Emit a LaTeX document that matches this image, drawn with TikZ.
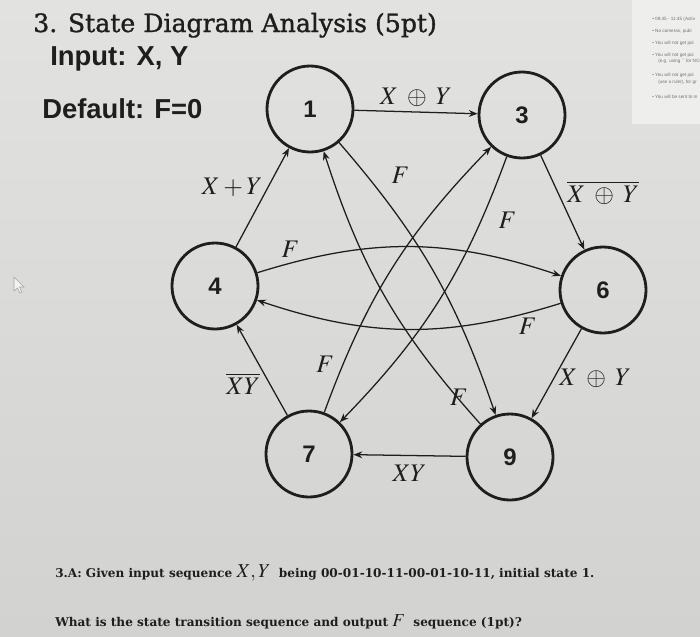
\documentclass[tikz,border=0pt]{standalone}
\usepackage{mathptmx}
\usepackage{fontspec}
\newfontfamily\serifhead{DejaVu Serif}
\newfontfamily\titleface[FakeBold=1.2]{DejaVu Serif}
\newfontfamily\sanshead{Liberation Sans}
\usetikzlibrary{arrows.meta, positioning}
\definecolor{bgtop}{RGB}{226,226,224}
\definecolor{bgbot}{RGB}{210,210,208}
\definecolor{paper}{RGB}{238,238,236}
\definecolor{ink}{RGB}{30,30,30}

\begin{document}
\begin{tikzpicture}[>={Stealth[length=2.2mm, width=1.7mm]},
    state/.style={draw=ink, circle, line width=2pt, minimum size=2.15cm,
                  font=\fontsize{17}{20}\selectfont\sanshead\bfseries, text=ink},
    trans/.style={->, draw=ink, line width=0.9pt},
    lbl/.style={font=\fontsize{18}{20}\selectfont, text=ink},
    head/.style={anchor=base west, inner sep=0pt, text=ink}]
  \useasboundingbox (0,0) rectangle (17.5,-15.9);
  \shade[top color=bgtop, bottom color=bgbot] (0,0) rectangle (17.5,-15.9);

  % sheet of paper at the top right
  \begin{scope}
    \clip (15.8,0) rectangle (17.5,-3.1);
    \fill[paper] (15.8,0) rectangle (17.5,-3.1);
    \begin{scope}[every node/.style={anchor=base west, inner sep=0pt,
                  font=\fontsize{3.3}{4}\selectfont\sanshead, text=black!55}]
      \node (p1) at (16.3,-0.5) {\textbullet\ 08:45 - 11:45 (Activ};
      \node (p2) at (16.3,-0.8) {\textbullet\ No cameras, publ};
      \node (p3) at (16.3,-1.12) {\textbullet\ You will not get poi};
      \node (p4) at (16.3,-1.42) {\textbullet\ You will not get poi};
      \node (p4b) at (16.45,-1.57) {(e.g. using `` for NO};
      \node (p5) at (16.3,-1.92) {\textbullet\ You will not get poi};
      \node (p5b) at (16.45,-2.08) {(use a ruler), for gr};
      \node (p6) at (16.3,-2.45) {\textbullet\ You will be sent to m};
    \end{scope}
  \end{scope}

  % mouse pointer
  \draw[gray!70, fill=white!90!gray, line width=0.4pt]
    (0.35,-6.925) -- (0.35,-7.275) -- (0.4375,-7.2) -- (0.5,-7.325)
    -- (0.55,-7.3) -- (0.4875,-7.175) -- (0.6,-7.175) -- cycle;

  % heading
  \node[head, font=\fontsize{17.9}{21}\selectfont\titleface] (title)
    at (0.825,-0.8) {3. State Diagram Analysis (5pt)};
  \node[head, font=\fontsize{19.5}{22}\selectfont\sanshead\bfseries] (input)
    at (1.25,-1.625) {Input: X, Y};
  \node[head, font=\fontsize{19.5}{22}\selectfont\sanshead\bfseries] (dflt)
    at (1.05,-2.95) {Default: F=0};

  % states
  \node[state] (n1) at (7.75,-2.725) {1};
  \node[state] (n3) at (13.05,-2.875) {3};
  \node[state] (n4) at (5.375,-7.15) {4};
  \node[state] (n6) at (15.075,-7.25) {6};
  \node[state] (n7) at (7.725,-11.35) {7};
  \node[state] (n9) at (12.75,-11.425) {9};

  % transitions
  \draw[trans] (n1) -- node[lbl, above] {$X\;\oplus\;Y$} (n3);
  \draw[trans] (n4) -- node[lbl, left, pos=0.6] {$X+Y$} (n1);
  \draw[trans] (n3) -- node[lbl, right=1mm, pos=0.4] {$\overline{X\;\oplus\;Y}$} (n6);
  \draw[trans] (n6) -- node[lbl, right, pos=0.55] {$X\;\oplus\;Y$} (n9);
  \draw[trans] (n9) -- node[lbl, below=1mm] {$XY$} (n7);
  \draw[trans] (n7) -- node[lbl, left=1mm, pos=0.35] {$\overline{XY}$} (n4);
  \draw[trans] (n4) to[bend left=18] node[lbl, above, pos=0.1] {$F$} (n6);
  \draw[trans] (n6) to[bend left=18] node[lbl, below, pos=0.1] {$F$} (n4);
  \draw[trans] (n1) to[bend left=11] node[lbl, pos=0.12, right=5mm] {$F$} (n9);
  \draw[trans] (n9) to[bend left=12] node[lbl, pos=0.1, xshift=0.5mm] {$F$} (n1);
  \draw[trans] (n7) to[bend left=12] node[lbl, left=1mm, pos=0.15] {$F$} (n3);
  \draw[trans] (n3) to[bend left=12] node[lbl, right=3mm, pos=0.2] {$F$} (n7);

  % question
  \node[head, font=\fontsize{8.6}{10}\selectfont\serifhead\bfseries] (qa)
    at (1.375,-14.425) {3.A: Given input sequence
    {\fontsize{14}{15}\selectfont$X,Y$}\ \ being 00-01-10-11-00-01-10-11, initial state 1.};
  \node[head, font=\fontsize{8.6}{10}\selectfont\serifhead\bfseries] (qb)
    at (1.375,-15.65) {What is the state transition sequence and output
    {\fontsize{13}{14}\selectfont$F$}\ \ sequence (1pt)?};
\end{tikzpicture}
\end{document}
